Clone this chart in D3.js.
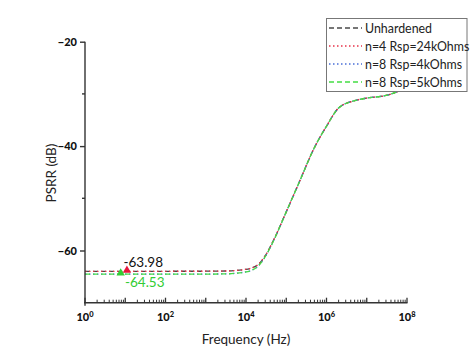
<html>
<head>
<meta charset="utf-8">
<title>PSRR</title>
<style>
  body { margin: 0; background: #fff; }
  text { font-family: Lato, "Open Sans", sans-serif; }
</style>
</head>
<body>
<script src="https://cdn.jsdelivr.net/npm/d3@7"></script>
<script>
var width = 474, height = 363;

// frequency points (Hz) and PSRR values (dB) for each series
var freq = [1, 10, 100, 1000, 3000, 10000, 20000, 30000, 50000, 1e5, 2e5, 5e5, 1e6, 2e6, 5e6, 1e7, 3e7, 6e7, 1e8];
var unhardened = [-63.98, -63.98, -63.98, -63.97, -63.93, -63.6, -62.7, -61.0, -57.8, -52.6, -47.3, -40.3, -36.2, -32.7, -31.3, -30.8, -30.3, -29.5, -28.5];
var n4rsp24k   = [-63.98, -63.98, -63.98, -63.97, -63.93, -63.6, -62.7, -61.0, -57.8, -52.6, -47.3, -40.3, -36.2, -32.7, -31.3, -30.8, -30.3, -29.5, -28.5];
var n8rsp4k    = [-64.53, -64.53, -64.53, -64.52, -64.48, -64.1, -63.0, -61.2, -57.9, -52.6, -47.3, -40.3, -36.2, -32.7, -31.3, -30.8, -30.3, -29.5, -28.5];
var n8rsp5k    = [-64.53, -64.53, -64.53, -64.52, -64.48, -64.1, -63.0, -61.2, -57.9, -52.6, -47.3, -40.3, -36.2, -32.7, -31.3, -30.8, -30.3, -29.5, -28.5];

var seriesNames = ["Unhardened", "n=4 Rsp=24kOhms", "n=8 Rsp=4kOhms", "n=8 Rsp=5kOhms"];
var seriesData = [unhardened, n4rsp24k, n8rsp4k, n8rsp5k];
var colors = ["#4a4a4a", "#e8334a", "#4a6fd8", "#44dd44"];
var dashes = ["5,3", "1.5,2.5", "1.5,2.5", "5,3"];

// markers
var markerF = [11, 7.7];
var markerV = [-63.98, -64.53];
var markerLabels = ["-63.98", "-64.53"];
var markerColors = ["#e8163a", "#33cc33"];

var yTicks = [-20, -40, -60];
var yMinor = [-30, -50];
var xLabelExp = [0, 2, 4, 6, 8];

var svg = d3.select("body").append("svg")
    .attr("width", width)
    .attr("height", height);

var x = d3.scaleLog().domain([1, 1e8]).range([85, 407]);
var y = d3.scaleLinear().domain([-70, -20]).range([302.7, 41.7]);

// curves
var line = d3.line()
    .x(function(d) { return x(d[0]); })
    .y(function(d) { return y(d[1]); })
    .curve(d3.curveMonotoneX);

seriesData.forEach(function(vals, i) {
    svg.append("path")
        .attr("d", line(freq.map(function(f, j) { return [f, vals[j]]; })))
        .attr("fill", "none")
        .attr("stroke", colors[i])
        .attr("stroke-width", 1.3)
        .attr("stroke-dasharray", dashes[i]);
});

// markers
markerF.forEach(function(f, i) {
    var cx = x(f), cy = y(markerV[i]);
    svg.append("path")
        .attr("d", d3.symbol().type(d3.symbolTriangle).size(30)())
        .attr("transform", "translate(" + cx + "," + (cy - 1) + ")")
        .attr("fill", markerColors[i]);
});
svg.append("text").attr("x", 123.5).attr("y", 267)
    .attr("font-size", 13.5).attr("fill", "#111").text(markerLabels[0]);
svg.append("text").attr("x", 125).attr("y", 287)
    .attr("font-size", 13.5).attr("fill", "#33cc33").text(markerLabels[1]);

// y axis
var yAxis = d3.axisLeft(y).tickValues(yTicks).tickSize(5).tickFormat(d3.format("d"));
var gy = svg.append("g").attr("transform", "translate(85,0)").call(yAxis);
gy.select(".domain").attr("d", "M0," + y(-20) + "V" + (y(-70) + 3));
gy.selectAll(".tick text").attr("font-size", 11).attr("font-weight", 900)
    .attr("font-family", "Lato, sans-serif").attr("x", -8).attr("fill", "#111");
gy.append("g").selectAll("line").data(yMinor).enter().append("line")
    .attr("x1", -3).attr("x2", 0)
    .attr("y1", function(d) { return y(d); }).attr("y2", function(d) { return y(d); })
    .attr("stroke", "#333");
gy.selectAll(".domain, line").attr("stroke", "#333").attr("stroke-width", 1.4);

// x axis
var xMajor = d3.range(0, 9).map(function(e) { return Math.pow(10, e); });
var xMinorVals = [];
for (var e = 0; e < 8; e++) {
    for (var k = 2; k < 10; k++) xMinorVals.push(k * Math.pow(10, e));
}
var gx = svg.append("g").attr("transform", "translate(0," + y(-70) + ")");
gx.append("line").attr("x1", x(1) - 1).attr("x2", x(1e8) + 0.5)
    .attr("stroke", "#333").attr("stroke-width", 1.4);
gx.selectAll(".maj").data(xMajor).enter().append("line")
    .attr("x1", function(d) { return x(d); }).attr("x2", function(d) { return x(d); })
    .attr("y1", 0).attr("y2", -5).attr("stroke", "#333").attr("stroke-width", 1.3);
gx.selectAll(".min").data(xMinorVals).enter().append("line")
    .attr("x1", function(d) { return x(d); }).attr("x2", function(d) { return x(d); })
    .attr("y1", 0).attr("y2", -3).attr("stroke", "#333").attr("stroke-width", 1);
var xl = gx.selectAll(".lab").data(xLabelExp).enter().append("text")
    .attr("x", function(d) { return x(Math.pow(10, d)); })
    .attr("y", 18.5)
    .attr("text-anchor", "middle")
    .attr("font-size", 11).attr("font-weight", 900).attr("fill", "#111");
xl.append("tspan").text("10");
xl.append("tspan").attr("font-size", 7.5).attr("dy", -4).text(function(d) { return d; });

// axis titles
svg.append("text").attr("x", 246).attr("y", 344).attr("text-anchor", "middle")
    .attr("font-size", 13.5).attr("fill", "#222").text("Frequency (Hz)");
svg.append("text").attr("transform", "translate(56,173) rotate(-90)")
    .attr("text-anchor", "middle").attr("font-size", 13.5).attr("fill", "#222").text("PSRR (dB)");

// legend
var lg = svg.append("g");
lg.append("rect").attr("x", 326.5).attr("y", 18.5).attr("width", 140.5).attr("height", 73)
    .attr("fill", "#fff").attr("stroke", "#777").attr("stroke-width", 1);
seriesNames.forEach(function(name, i) {
    var ly = 28 + i * 18;
    lg.append("line").attr("x1", 329).attr("x2", 362).attr("y1", ly).attr("y2", ly)
        .attr("stroke", colors[i]).attr("stroke-width", 1.3).attr("stroke-dasharray", dashes[i]);
    lg.append("text").attr("x", 365).attr("y", ly + 4.5)
        .attr("font-size", 12.4).attr("fill", "#222").text(name);
});
</script>
</body>
</html>
